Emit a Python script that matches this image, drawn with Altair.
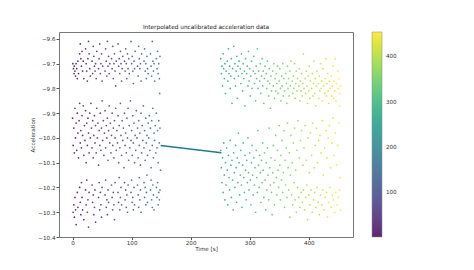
import altair as alt
import pandas as pd

# Segment 1 (0-150 s), upper band
upper1 = [(0.5,-9.70),(1.5,-9.72),(2.5,-9.74),(3,-9.71),(4,-9.73),(5,-9.75),(6,-9.70),(7,-9.72),(8,-9.76),(9,-9.69),(10,-9.74),
(12,-9.66),(13,-9.62),(14,-9.68),(15,-9.71),(16,-9.65),(17,-9.73),(18,-9.69),(19,-9.76),
(22,-9.64),(23,-9.70),(24,-9.73),(25,-9.77),(26,-9.68),(27,-9.61),(28,-9.66),(29,-9.72),(30,-9.75),
(33,-9.69),(34,-9.74),(35,-9.63),(36,-9.67),(37,-9.71),(38,-9.73),(39,-9.70),(40,-9.76),(41,-9.65),
(44,-9.72),(45,-9.68),(46,-9.62),(47,-9.74),(48,-9.70),(49,-9.66),(50,-9.77),(51,-9.71),
(55,-9.73),(56,-9.64),(57,-9.69),(58,-9.75),(59,-9.61),(60,-9.71),(61,-9.67),(62,-9.74),(63,-9.70),
(66,-9.68),(67,-9.72),(68,-9.63),(69,-9.76),(70,-9.70),(71,-9.66),(72,-9.73),(73,-9.79),(74,-9.69),
(77,-9.62),(78,-9.71),(79,-9.68),(80,-9.74),(81,-9.65),(82,-9.70),(83,-9.77),(84,-9.72),(85,-9.67),
(88,-9.69),(89,-9.73),(90,-9.64),(91,-9.70),(92,-9.76),(93,-9.66),(94,-9.72),(95,-9.68),(96,-9.74),
(99,-9.61),(100,-9.70),(101,-9.67),(102,-9.73),(103,-9.78),(104,-9.69),(105,-9.72),(106,-9.65),
(110,-9.71),(111,-9.75),(112,-9.63),(113,-9.68),(114,-9.72),(115,-9.70),(116,-9.77),(117,-9.66),
(121,-9.69),(122,-9.64),(123,-9.73),(124,-9.70),(125,-9.76),(126,-9.67),(127,-9.72),(128,-9.74),
(132,-9.66),(133,-9.71),(134,-9.75),(135,-9.61),(136,-9.69),(137,-9.73),(138,-9.70),(139,-9.77),
(142,-9.68),(143,-9.72),(144,-9.65),(145,-9.74),(146,-9.70),(147,-9.76),(148,-9.67),(147.5,-9.82)]

# Segment 1, middle band
middle1 = [(0,-9.92),(1,-10.03),(2,-9.96),(3,-10.06),(4,-9.88),(5,-10.00),(6,-9.94),(7,-10.05),(8,-9.90),(9,-9.98),
(10,-10.08),(11,-9.93),(12,-9.86),(13,-10.02),(14,-9.97),(15,-10.04),(16,-9.91),(17,-9.99),(18,-9.87),(19,-10.07),
(20,-9.95),(21,-10.01),(22,-9.89),(23,-10.10),(24,-9.94),(25,-10.03),(26,-9.92),(27,-9.98),(28,-10.06),(29,-9.90),
(30,-10.00),(31,-9.86),(32,-9.96),(33,-10.04),(34,-9.93),(35,-10.08),(36,-9.99),(37,-9.91),(38,-10.02),(39,-9.95),
(40,-10.06),(41,-9.88),(42,-10.00),(43,-9.94),(44,-10.11),(45,-9.97),(46,-10.03),(47,-9.90),(48,-10.05),(49,-9.96),
(50,-9.85),(51,-10.01),(52,-9.93),(53,-10.07),(54,-9.98),(55,-9.89),(56,-10.04),(57,-9.95),(58,-10.00),(59,-9.92),
(60,-10.09),(61,-9.97),(62,-9.87),(63,-10.02),(64,-9.94),(65,-10.06),(66,-9.99),(67,-9.90),(68,-10.03),(69,-9.96),
(70,-10.08),(71,-9.93),(72,-10.00),(73,-9.88),(74,-10.05),(75,-9.97),(76,-10.02),(77,-9.91),(78,-10.10),(79,-9.95),
(80,-10.04),(81,-9.86),(82,-9.99),(83,-10.07),(84,-9.93),(85,-10.01),(86,-9.96),(87,-10.12),(88,-9.90),(89,-10.03),
(90,-9.98),(91,-10.06),(92,-9.92),(93,-10.00),(94,-9.88),(95,-10.09),(96,-9.95),(97,-10.04),(98,-9.85),(99,-10.01),
(100,-9.97),(101,-10.07),(102,-9.91),(103,-10.02),(104,-9.94),(105,-10.10),(106,-9.99),(107,-10.05),(108,-9.89),(109,-10.00),
(110,-9.96),(111,-10.08),(112,-9.93),(113,-10.03),(114,-9.98),(115,-10.11),(116,-9.90),(117,-10.06),(118,-9.95),(119,-10.01),
(120,-9.87),(121,-10.04),(122,-9.97),(123,-10.09),(124,-9.92),(125,-10.02),(126,-9.99),(127,-10.07),(128,-9.94),(129,-10.00),
(130,-9.91),(131,-10.05),(132,-9.96),(133,-10.12),(134,-9.93),(135,-10.03),(136,-9.88),(137,-10.08),(138,-9.98),(139,-10.01),
(140,-9.95),(141,-10.06),(142,-9.90),(143,-10.04),(144,-9.97),(145,-10.10),(146,-9.93),(147,-10.02),(148,-9.96),(149,-10.13)]

# Segment 1, lower band
lower1 = [(1,-10.30),(2,-10.27),(3,-10.32),(4,-10.24),(5,-10.29),(6,-10.35),(8,-10.22),(9,-10.28),
(12,-10.20),(13,-10.26),(14,-10.31),(15,-10.18),(16,-10.24),(17,-10.29),(19,-10.33),
(22,-10.21),(23,-10.27),(24,-10.17),(25,-10.30),(26,-10.25),(27,-10.36),(28,-10.22),
(33,-10.19),(34,-10.26),(35,-10.23),(36,-10.31),(37,-10.28),(38,-10.21),(39,-10.34),
(44,-10.24),(45,-10.18),(46,-10.29),(47,-10.22),(48,-10.27),(49,-10.32),(50,-10.20),
(55,-10.23),(56,-10.17),(57,-10.28),(58,-10.25),(59,-10.31),(60,-10.21),(61,-10.26),
(66,-10.19),(67,-10.24),(68,-10.29),(69,-10.22),(70,-10.27),(71,-10.33),(72,-10.18),
(77,-10.22),(78,-10.26),(79,-10.16),(80,-10.29),(81,-10.24),(82,-10.20),(83,-10.27),
(88,-10.18),(89,-10.25),(90,-10.21),(91,-10.28),(92,-10.23),(93,-10.30),(94,-10.19),
(99,-10.22),(100,-10.17),(101,-10.26),(102,-10.24),(103,-10.29),(104,-10.20),(105,-10.27),
(110,-10.19),(111,-10.23),(112,-10.28),(113,-10.16),(114,-10.25),(115,-10.21),(116,-10.30),
(121,-10.18),(122,-10.24),(123,-10.20),(124,-10.27),(125,-10.22),(126,-10.15),(127,-10.26),
(132,-10.21),(133,-10.17),(134,-10.25),(135,-10.28),(136,-10.19),(137,-10.23),(138,-10.29),
(142,-10.20),(143,-10.24),(144,-10.18),(145,-10.27),(146,-10.22),(147,-10.25),(148,-10.21)]

# Segment 2 (250-455 s), upper band
upper2 = [(251,-9.68),(252,-9.74),(253,-9.71),(254,-9.79),(255,-9.66),(256,-9.72),(257,-9.76),(258,-9.70),(259,-9.82),(260,-9.73),
(262,-9.69),(263,-9.77),(264,-9.64),(265,-9.74),(266,-9.71),(267,-9.80),(268,-9.75),(269,-9.68),(270,-9.86),(271,-9.72),
(273,-9.63),(274,-9.76),(275,-9.70),(276,-9.79),(277,-9.73),(278,-9.67),(279,-9.84),(280,-9.71),(281,-9.75),(282,-9.69),
(284,-9.72),(285,-9.78),(286,-9.66),(287,-9.74),(288,-9.81),(289,-9.70),(290,-9.76),(291,-9.73),(292,-9.87),(293,-9.68),
(295,-9.74),(296,-9.71),(297,-9.79),(298,-9.65),(299,-9.77),(300,-9.72),(301,-9.83),(302,-9.75),(303,-9.69),(304,-9.80),
(306,-9.73),(307,-9.67),(308,-9.78),(309,-9.74),(310,-9.85),(311,-9.71),(312,-9.76),(313,-9.64),(314,-9.80),(315,-9.73),
(317,-9.77),(318,-9.70),(319,-9.82),(320,-9.75),(321,-9.68),(322,-9.79),(323,-9.73),(324,-9.86),(325,-9.76),(326,-9.71),
(328,-9.74),(329,-9.80),(330,-9.69),(331,-9.77),(332,-9.83),(333,-9.72),(334,-9.78),(335,-9.88),(336,-9.75),(337,-9.81),
(339,-9.73),(340,-9.79),(341,-9.70),(342,-9.84),(343,-9.76),(344,-9.81),(345,-9.74),(346,-9.78),(347,-9.71),(348,-9.82),
(350,-9.77),(351,-9.72),(352,-9.80),(353,-9.85),(354,-9.75),(355,-9.79),(356,-9.70),(357,-9.83),(358,-9.76),(359,-9.81),
(361,-9.74),(362,-9.78),(363,-9.86),(364,-9.71),(365,-9.80),(366,-9.76),(367,-9.83),(368,-9.73),(369,-9.79),(370,-9.69),
(372,-9.77),(373,-9.82),(374,-9.75),(375,-9.80),(376,-9.70),(377,-9.84),(378,-9.78),(379,-9.73),(380,-9.81),(381,-9.76),
(383,-9.79),(384,-9.72),(385,-9.85),(386,-9.77),(387,-9.81),(388,-9.74),(389,-9.83),(390,-9.78),(391,-9.66),(392,-9.80),
(394,-9.76),(395,-9.82),(396,-9.73),(397,-9.79),(398,-9.86),(399,-9.75),(400,-9.81),(401,-9.71),(402,-9.84),(403,-9.77),
(405,-9.80),(406,-9.74),(407,-9.83),(408,-9.78),(409,-9.69),(410,-9.82),(411,-9.76),(412,-9.87),(413,-9.79),(414,-9.73),
(416,-9.78),(417,-9.84),(418,-9.75),(419,-9.81),(420,-9.70),(421,-9.80),(422,-9.77),(423,-9.85),(424,-9.72),(425,-9.79),
(427,-9.82),(428,-9.76),(429,-9.68),(430,-9.83),(431,-9.78),(432,-9.74),(433,-9.81),(434,-9.86),(435,-9.77),(436,-9.80),
(438,-9.75),(439,-9.83),(440,-9.79),(441,-9.71),(442,-9.84),(443,-9.77),(444,-9.81),(445,-9.68),(446,-9.85),(447,-9.78),
(449,-9.73),(450,-9.80),(451,-9.76),(452,-9.87),(453,-9.82),(454,-9.79)]

# Segment 2, lower band
lower2 = [(251,-10.05),(252,-10.12),(253,-10.18),(254,-10.08),(255,-10.22),(256,-10.02),(257,-10.15),(258,-10.25),(259,-10.10),(260,-10.19),
(261,-10.04),(262,-10.13),(263,-10.27),(264,-10.07),(265,-10.16),(266,-10.21),(267,-10.01),(268,-10.11),(269,-10.24),(270,-10.09),
(271,-10.17),(272,-10.29),(273,-10.06),(274,-10.14),(275,-10.20),(276,-10.03),(277,-10.12),(278,-10.26),(279,-10.08),(280,-10.18),
(281,-9.98),(282,-10.10),(283,-10.23),(284,-10.15),(285,-10.05),(286,-10.19),(287,-10.28),(288,-10.11),(289,-10.02),(290,-10.16),
(291,-10.22),(292,-10.07),(293,-10.13),(294,-10.25),(295,-10.09),(296,-10.18),(297,-10.00),(298,-10.14),(299,-10.21),(300,-10.06),
(301,-10.17),(302,-10.27),(303,-10.10),(304,-10.03),(305,-10.15),(306,-10.23),(307,-10.08),(308,-10.19),(309,-10.12),(310,-10.30),
(311,-10.05),(312,-10.16),(313,-10.22),(314,-9.97),(315,-10.11),(316,-10.20),(317,-10.07),(318,-10.14),(319,-10.26),(320,-10.09),
(321,-10.18),(322,-10.02),(323,-10.13),(324,-10.24),(325,-10.06),(326,-10.17),(327,-10.29),(328,-10.10),(329,-10.21),(330,-10.04),
(331,-10.15),(332,-10.25),(333,-9.96),(334,-10.12),(335,-10.19),(336,-10.08),(337,-10.22),(338,-10.31),(339,-10.14),(340,-10.03),
(341,-10.18),(342,-10.27),(343,-10.09),(344,-9.99),(345,-10.16),(346,-10.23),(347,-10.05),(348,-10.13),(349,-10.20),(350,-9.95),
(351,-10.11),(352,-10.25),(353,-10.07),(354,-10.17),(355,-10.01),(356,-10.22),(357,-10.14),(358,-9.97),(359,-10.28),(360,-10.09),
(361,-10.19),(362,-10.04),(363,-10.24),(364,-9.94),(365,-10.12),(366,-10.21),(367,-10.06),(368,-10.32),(369,-10.15),(370,-9.99),
(371,-10.23),(372,-10.10),(373,-10.27),(374,-10.02),(375,-10.18),(376,-9.96),(377,-10.25),(378,-10.13),(379,-10.30),(380,-10.05),
(381,-10.20),(382,-9.93),(383,-10.24),(384,-10.08),(385,-10.28),(386,-10.01),(387,-10.22),(388,-9.97),(389,-10.26),(390,-10.11),
(391,-10.21),(392,-10.04),(393,-10.29),(394,-9.95),(395,-10.24),(396,-10.09),(397,-10.19),(398,-10.33),(399,-10.00),(400,-10.23),
(401,-10.14),(402,-10.27),(403,-9.98),(404,-10.21),(405,-10.07),(406,-10.30),(407,-9.94),(408,-10.25),(409,-10.12),(410,-10.22),
(411,-10.03),(412,-10.28),(413,-9.96),(414,-10.20),(415,-10.10),(416,-10.26),(417,-10.01),(418,-10.31),(419,-9.99),(420,-10.23),
(421,-10.06),(422,-10.27),(423,-9.93),(424,-10.21),(425,-10.15),(426,-10.29),(427,-10.04),(428,-10.24),(429,-9.97),(430,-10.22),
(431,-10.08),(432,-10.32),(433,-10.00),(434,-10.26),(435,-9.95),(436,-10.20),(437,-10.12),(438,-10.28),(439,-10.02),(440,-10.23),
(441,-9.92),(442,-10.25),(443,-10.07),(444,-10.30),(445,-9.98),(446,-10.22),(447,-10.11),(448,-10.27),(449,-10.03),(450,-10.24),
(451,-9.94),(452,-10.21),(453,-10.16),(454,-10.29)]

# Interpolated gap segment
gap_t = [149, 252]
gap_a = [-10.03, -10.06]

x_ticks = [0, 100, 200, 300, 400]
y_ticks = [-9.6, -9.7, -9.8, -9.9, -10.0, -10.1, -10.2, -10.3, -10.4]
cbar_ticks = [100, 200, 300, 400]

rows = []
for group in (upper1, middle1, lower1, upper2, lower2):
    for t, a in group:
        rows.append({"t": t, "a": a})
pts = pd.DataFrame(rows)
gap = pd.DataFrame({"t": gap_t, "a": gap_a})

FONT = "DejaVu Sans"
FS = 5.6
xs = alt.Scale(domain=[-23, 475], nice=False, zero=False)
ys = alt.Scale(domain=[-10.4, -9.572], nice=False, zero=False)

x_axis = alt.Axis(values=x_ticks, grid=False, domain=False, tickSize=2.5, tickColor="#555",
                  labelFontSize=FS, labelColor="#333", labelPadding=0.5, labelOverlap=False,
                  title="Time [s]", titleFontSize=FS, titleFontWeight="normal", titleColor="#333",
                  titlePadding=1)
y_axis = alt.Axis(values=y_ticks, format=".1f", grid=False, domain=False, tickSize=3, tickColor="#555",
                  labelFontSize=FS, labelColor="#333", labelPadding=1, labelOverlap=False,
                  title="Acceleration", titleFontSize=FS, titleFontWeight="normal",
                  titleColor="#333", titlePadding=2)

line = alt.Chart(gap).mark_line(color="#24798c", strokeWidth=1.5).encode(
    x=alt.X("t:Q", scale=xs, axis=x_axis),
    y=alt.Y("a:Q", scale=ys, axis=y_axis),
)

points = alt.Chart(pts).mark_circle(size=3, opacity=0.85).encode(
    x=alt.X("t:Q", scale=xs, axis=x_axis),
    y=alt.Y("a:Q", scale=ys, axis=y_axis),
    color=alt.Color("t:Q", scale=alt.Scale(scheme="viridis", domain=[0, 454], nice=False),
                    legend=alt.Legend(orient="none", legendX=313, legendY=0, direction="vertical",
                                      gradientLength=205, gradientThickness=10,
                                      gradientStrokeColor="#777", gradientStrokeWidth=0.5,
                                      values=cbar_ticks, labelFontSize=FS, labelColor="#333",
                                      labelOffset=4, labelOverlap=False, title=None)),
)

chart = (line + points).properties(
    width=294, height=205,
    title=alt.TitleParams("Interpolated uncalibrated acceleration data", fontSize=5.8,
                          fontWeight="normal", color="#222", offset=2, anchor="middle"),
    autosize=alt.AutoSizeParams(type="none"),
    padding={"left": 59, "top": 32, "right": 121, "bottom": 33},
).configure(font=FONT).configure_view(stroke="#777", strokeWidth=1)

chart.save("out.html", embed_options={"renderer": "svg", "actions": False})
